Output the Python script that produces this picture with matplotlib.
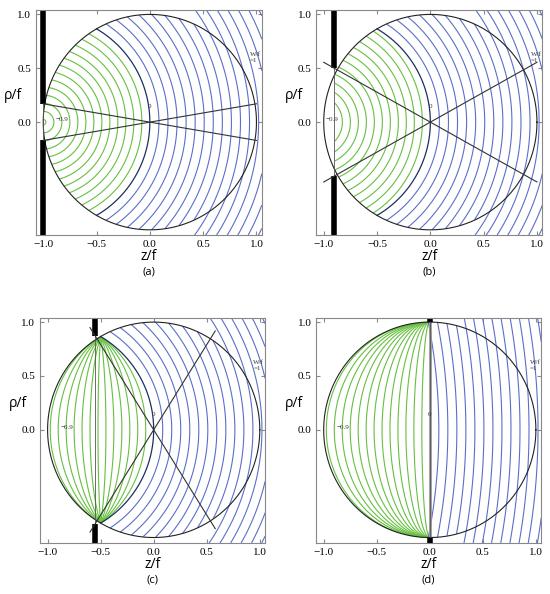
import numpy as np
import matplotlib
matplotlib.use("Agg")
import matplotlib.pyplot as plt

panel_labels = ["(a)", "(b)", "(c)", "(d)"]
aperture_z = [-1.0, -0.9, -0.55, 0.0]
hole_half = [0.17, 0.5, 0.87, 1.0]
ray_end_z = [1.0, 1.0, 0.58, 0.0]
green_type = ["circle", "circle", "lens", "lens"]
green_center = [-1.0, -1.08, None, None]
blue_center = [-1.0, -1.0, -1.0, -5.0]
outer_min = [0.75, 0.75, 0.8, 0.35]
green_levels = [-0.975, -0.9, -0.825, -0.75, -0.675, -0.6, -0.525, -0.45,
                -0.375, -0.3, -0.225, -0.15, -0.075]
blue_levels = [0.085, 0.17, 0.255, 0.34, 0.425, 0.51, 0.595, 0.68, 0.765, 0.85,
               0.935, 1.02, 1.105, 1.19, 1.275, 1.36, 1.445, 1.53, 1.615]

GREEN = "#66c040"
BLUE = "#5a70c8"
SERIF = "Liberation Serif"
plt.rcParams["contour.negative_linestyle"] = "solid"

fig = plt.figure(figsize=(5.5, 5.94), dpi=100)
rects = [(0.065, 0.604, 0.411, 0.379), (0.575, 0.604, 0.411, 0.379),
         (0.073, 0.086, 0.409, 0.379), (0.575, 0.086, 0.409, 0.379)]

z = np.linspace(-1.07, 1.05, 500)
r = np.linspace(-1.05, 1.04, 500)
Z, R = np.meshgrid(z, r)
inside = Z**2 + R**2 <= 1.0

for i, rect in enumerate(rects):
    ax = fig.add_axes(rect)
    a = aperture_z[i]
    h = hole_half[i]
    if green_type[i] == "circle":
        zc = green_center[i]
        G = np.sqrt((Z - zc)**2 + R**2) + zc
    else:
        zL = -np.sqrt(np.clip(1 - R**2, 1e-6, None))
        zR = (-1 + np.sqrt(np.clip(1 - R**2, 0, None))) if i == 2 else 0 * R
        G = -1 + (Z - zL) / np.where(np.abs(zR - zL) < 1e-6, 1e-6, zR - zL)
    mask_g = inside & (G < 0)
    if i < 2:
        mask_g &= Z > a
    ax.contour(Z, R, np.where(mask_g, G, np.nan), levels=green_levels,
               colors=GREEN, linewidths=0.8, linestyles="solid")
    zb = blue_center[i]
    B = np.sqrt((Z - zb)**2 + R**2) + zb
    mask_b = (B > 0) & (inside | (B > outer_min[i]))
    ax.contour(Z, R, np.where(mask_b, B, np.nan), levels=blue_levels,
               colors=BLUE, linewidths=0.8, linestyles="solid")
    if i < 3:
        th = np.linspace(-np.pi / 3, np.pi / 3, 200)
        ax.plot(-1 + np.cos(th), np.sin(th), color="#1a3060", lw=0.9)
    else:
        ax.plot([0, 0], [-1, 1], color="#999999", lw=2)
    t = np.linspace(0, 2 * np.pi, 400)
    ax.plot(np.cos(t), np.sin(t), color="#222222", lw=0.8)
    ax.plot([a, a], [-h, h], color="#555555", lw=0.6)
    ax.plot([a, a], [h, 1.04], color="black", lw=4, solid_capstyle="butt")
    ax.plot([a, a], [-1.05, -h], color="black", lw=4, solid_capstyle="butt")
    if i < 3:
        s = h / a
        ze = ray_end_z[i]
        zs = -1.0 if i < 2 else -0.6
        ax.plot([zs, ze], [s * zs, s * ze], color="#333333", lw=0.8)
        ax.plot([zs, ze], [-s * zs, -s * ze], color="#333333", lw=0.8)
    ax.text(-0.88 if i != 1 else -0.98, 0.02, "\u22120.9", fontsize=5, color="#333333",
            family=SERIF, va="center")
    ax.text(0.0, 0.13, "0", fontsize=5, color="#333333", family=SERIF, ha="center")
    ax.text(0.94, 0.6, "W/f\n=1", fontsize=5, color="#333333", family=SERIF,
            va="center", linespacing=1.3)

    ax.set_xlim(-1.07, 1.05)
    ax.set_ylim(-1.05, 1.04)
    ax.set_xticks([-1.0, -0.5, 0.0, 0.5, 1.0])
    ax.set_yticks([0.0, 0.5, 1.0])
    ax.set_xticklabels(["\u22121.0", "\u22120.5", "0.0", "0.5", "1.0"])
    ax.set_yticklabels(["0.0", "0.5", "1.0"])
    ax.tick_params(direction="in", length=3, labelsize=8, color="#888888",
                   top=True, right=True)
    for lab in ax.get_xticklabels() + ax.get_yticklabels():
        lab.set_family(SERIF)
    for sp in ax.spines.values():
        sp.set_color("#888888")
    ax.set_xlabel("z/f", fontsize=10, family="Open Sans", labelpad=0)
    ax.set_ylabel("\u03c1/f", fontsize=10, family="Open Sans", rotation=0,
                  ha="center", va="center")
    ax.yaxis.set_label_coords(-0.1, 0.62)
    ax.text(0.5, -0.14, panel_labels[i], transform=ax.transAxes, ha="center",
            va="top", fontsize=8, family="Open Sans")

fig.savefig("out.png", dpi=100)
